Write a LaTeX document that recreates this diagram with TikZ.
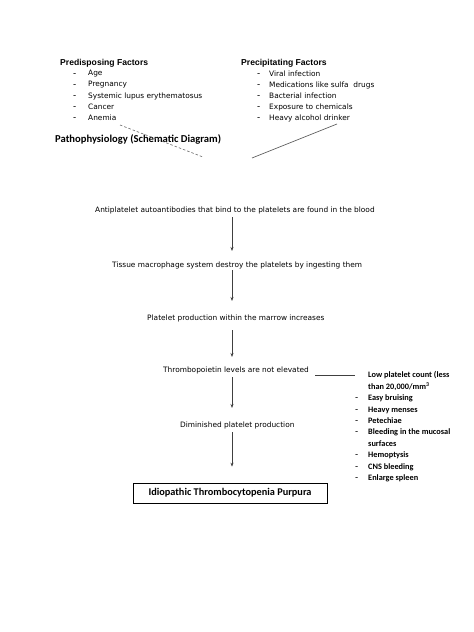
\documentclass[tikz,border=0pt]{standalone}
\usepackage{fontspec}
\setmainfont{DejaVu Sans}
\newfontfamily\calfont{Carlito}
\newfontfamily\headfont{Liberation Sans}
\usetikzlibrary{calc,arrows.meta}
\begin{document}
\begin{tikzpicture}[x=1pt,y=-1pt,
 txt/.style={inner sep=0pt,anchor=west,font=\fontsize{7.4}{9}\selectfont},
 dashmark/.style={inner sep=0pt,anchor=west,yshift=-1.2pt,font=\headfont\fontsize{9.5}{10}\selectfont},
 head/.style={inner sep=0pt,anchor=west,font=\headfont\fontsize{8.6}{10}\selectfont\bfseries},
 symp/.style={inner sep=0pt,anchor=west,font=\calfont\fontsize{8.3}{10}\selectfont\bfseries},
 arr/.style={-{Stealth[length=4pt,width=3pt]},line width=0.6pt,draw=black!75},
 finalbox/.style={draw,line width=0.7pt,inner sep=0pt,minimum width=194pt,minimum height=20pt,font=\calfont\fontsize{10.3}{12}\selectfont\bfseries},
]
\useasboundingbox (0,0) rectangle (474,632);
% Predisposing factors
\node[head] (ph) at (60,63) {Predisposing Factors};
\foreach \t [count=\i] in {Age,Pregnancy,Systemic lupus erythematosus,Cancer,Anemia}{
  \node[dashmark] (pd\i) at (73,{63+11*\i}) {-};
  \node[txt] (pi\i) at (88,{63+11*\i}) {\t};
}
% Precipitating factors
\node[head] (qh) at (241,63) {Precipitating Factors};
\foreach \t [count=\i] in {Viral infection,Medications like sulfa\ \ drugs,Bacterial infection,Exposure to chemicals,Heavy alcohol drinker}{
  \node[dashmark] (qd\i) at (257,{63+11*\i}) {-};
  \node[txt] (qi\i) at (269,{63+11*\i}) {\t};
}
\node[inner sep=0pt,anchor=west,font=\calfont\fontsize{10.6}{12}\selectfont\bfseries] (patho) at (55,139) {Pathophysiology (Schematic Diagram)};
\coordinate (da) at (120,125);
\coordinate (db) at (203,157);
\coordinate (sa) at (337,124);
\coordinate (sb) at (252,158);
\draw[black!60,line width=0.6pt,dash pattern=on 2.5pt off 2pt] (da) -- (db);
\draw[black!70,line width=0.6pt] (sa) -- (sb);
% main chain
\coordinate (ax) at (232,0);
\node[txt] (t1) at (95,210) {Antiplatelet autoantibodies that bind to the platelets are found in the blood};
\node[txt] (t2) at (112,265) {Tissue macrophage system destroy the platelets by ingesting them};
\node[txt] (t3) at (147,318) {Platelet production within the marrow increases};
\node[txt] (t4) at (163,370) {Thrombopoietin levels are not elevated};
\node[txt] (t5) at (180,425) {Diminished platelet production};
\node[finalbox] (fb) at (230,493) {Idiopathic Thrombocytopenia Purpura};
\draw[arr] ($(t1.west -| ax)+(0,7)$) -- ($(t2.west -| ax)+(0,-14)$);
\draw[arr] ($(t2.west -| ax)+(0,5)$) -- ($(t3.west -| ax)+(0,-17)$);
\draw[arr] ($(t3.west -| ax)+(0,12)$) -- ($(t4.west -| ax)+(0,-13)$);
\draw[arr] ($(t4.west -| ax)+(0,7)$) -- ($(t5.west -| ax)+(0,-17)$);
\draw[arr] ($(t5.west -| ax)+(0,7)$) -- ($(fb.north -| ax)+(0,-16)$);
% symptoms
\coordinate (hs) at (315,375);
\coordinate (se) at (355,375);
\draw[black!75,line width=0.6pt] (hs) -- (se);
\node[symp] (s0) at (368,375) {Low platelet count (less};
\node[symp] (s0b) at (368,387) {than 20,000/mm\textsuperscript{3}};
\foreach \t/\y [count=\i] in {Easy bruising/398,Heavy menses/410,Petechiae/421,Bleeding in the mucosal/432,Hemoptysis/455,CNS bleeding/467,Enlarge spleen/478}{
  \node[dashmark] (sd\i) at (355,\y) {-};
  \node[symp] (si\i) at (368,\y) {\t};
}
\node[symp] (s4b) at (368,444) {surfaces};
\end{tikzpicture}
\end{document}
